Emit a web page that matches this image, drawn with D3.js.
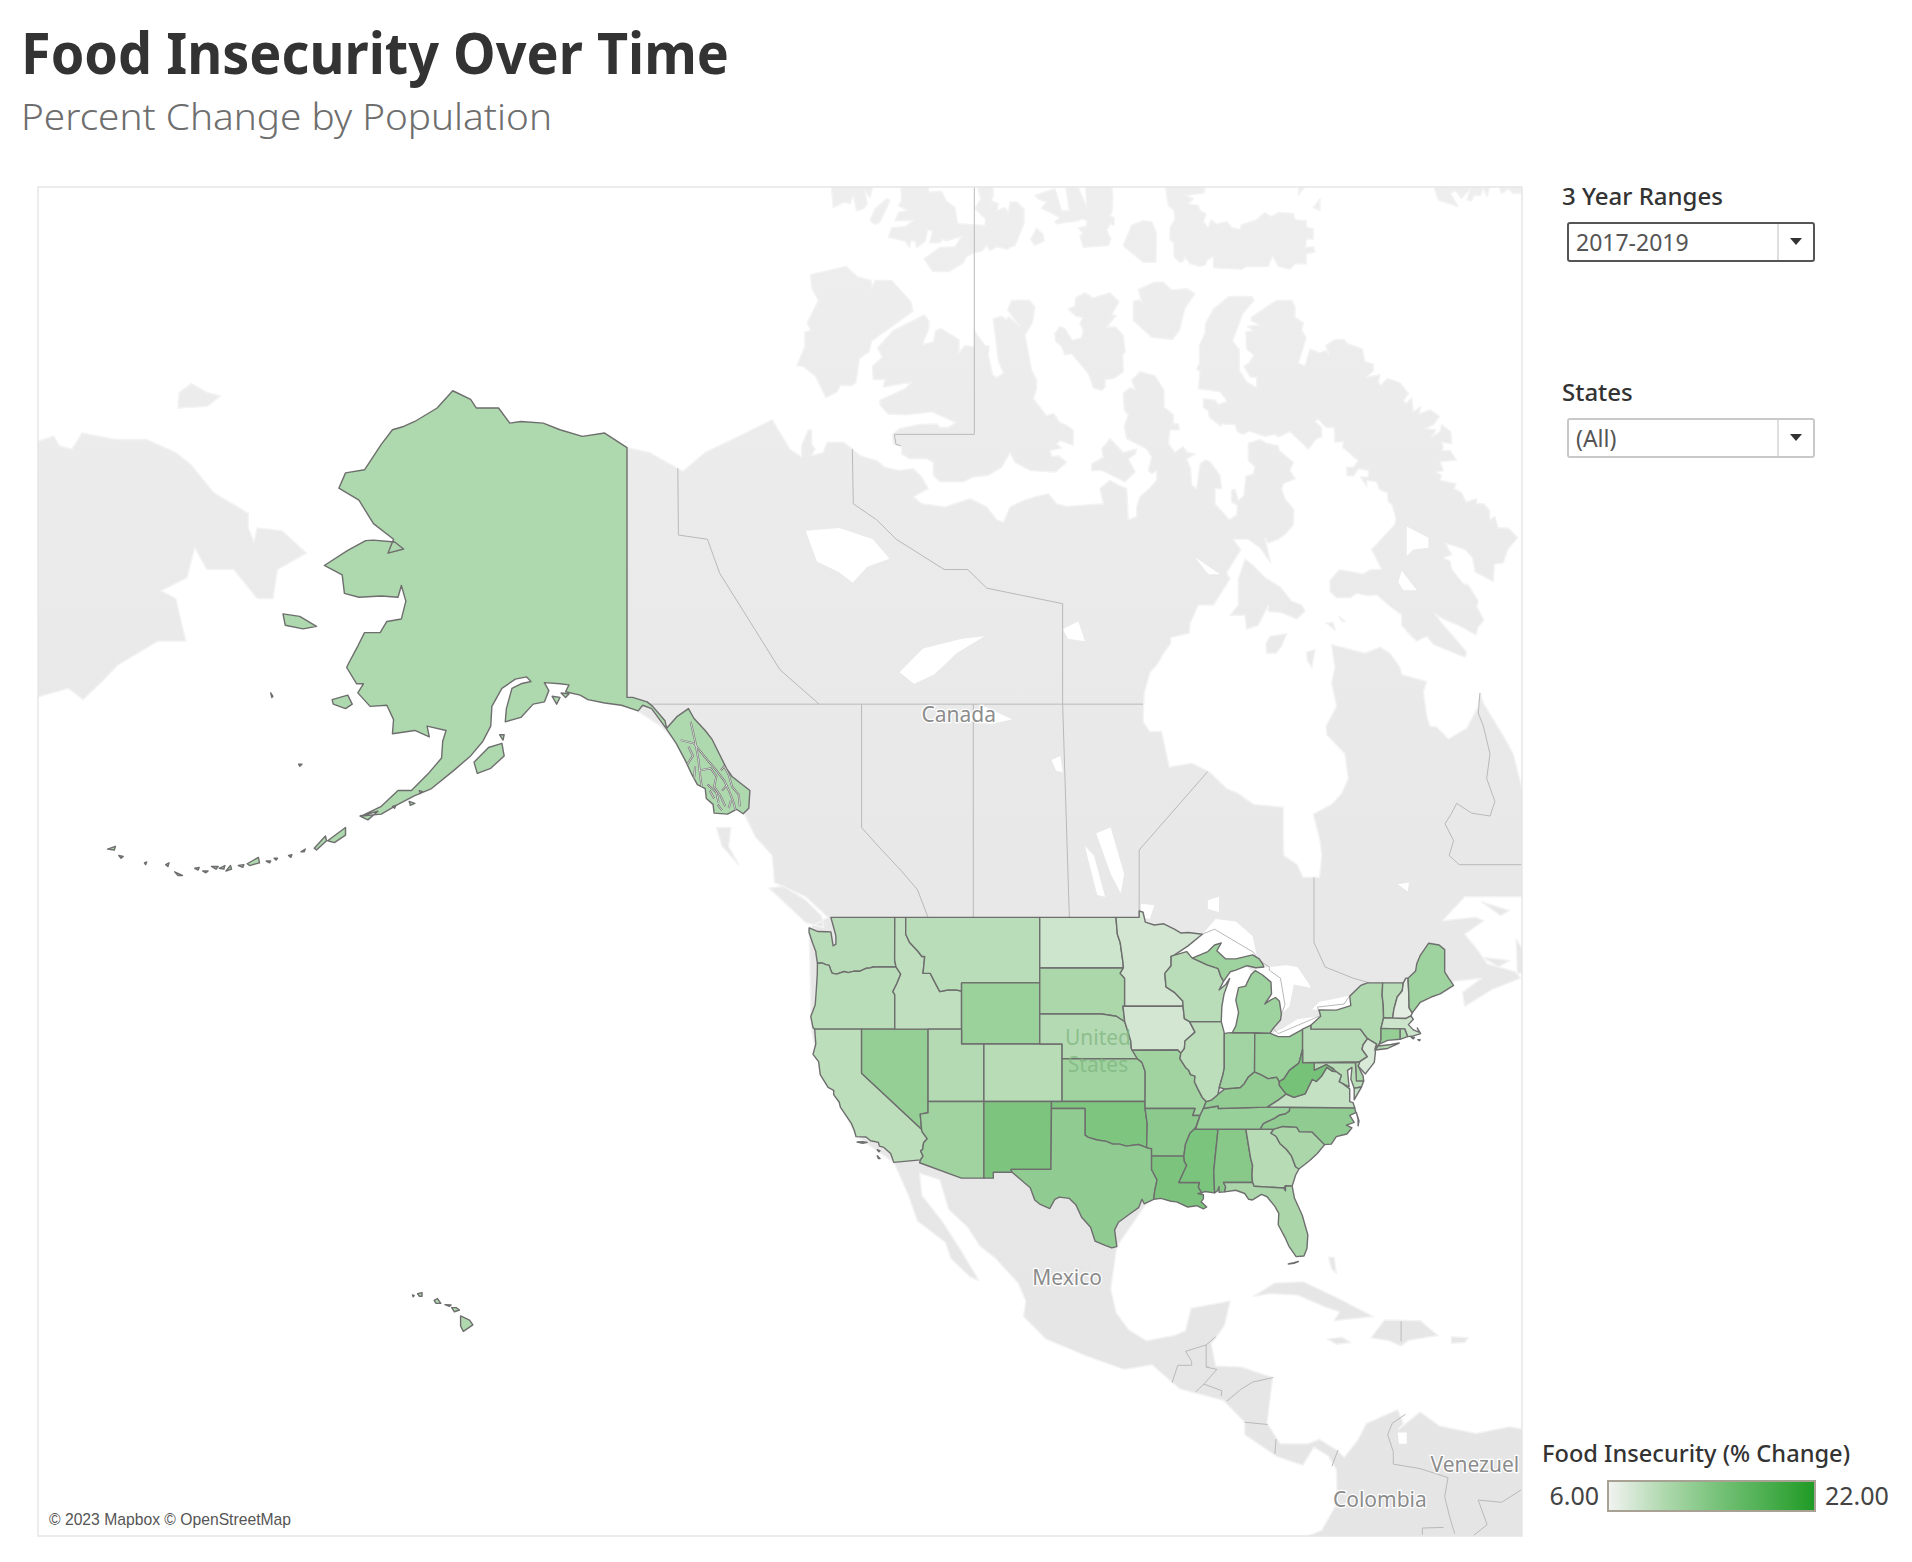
<!DOCTYPE html>
<html>
<head>
<meta charset="utf-8">
<script src="https://cdn.jsdelivr.net/npm/d3@7"></script>
<style>
  body { margin: 0; background: #fff; }
  svg { display: block; }
  text { font-family: "Noto Sans", "Open Sans", sans-serif; }
</style>
</head>
<body>
<div id="chart"></div>
<script>
const titleText = "Food Insecurity Over Time";
const subtitleText = "Percent Change by Population";
const legendTitle = "Food Insecurity (% Change)";
const legendDomain = [6, 22];
const filterLabels = ["3 Year Ranges", "States"];
const filterValues = ["2017-2019", "(All)"];

const stateCodes = ["AK","HI","WA","OR","CA","NV","ID","MT","WY","UT","CO","AZ","NM","ND","SD","NE","KS","OK","TX","MN","IA","MO","AR","LA","MS","AL","GA","FL","SC","NC","TN","KY","IL","IN","OH","MI","WI","PA","NY","VT","NH","ME","MA","RI","CT","NJ","DE","MD","VA","WV"];
const stateValues = [10.4,10.3,9.7,9.6,9.5,12.2,9.3,9.6,11.8,10,9.8,11.4,14,8.3,10.6,10,11.4,13.9,12.6,8.1,8.1,11.4,13,14.1,14.2,13.2,9.9,10.7,10.7,12.6,12,12.4,9.5,11.3,11.8,11.6,9.6,9.7,10.2,9.8,7,11.6,8.5,10.2,12.3,7.6,10.7,9.8,9,14.6];

// outlines are flat lon,lat lists
const stateRings = {
  WA: [[-124.7,48.38,-123.9,48.16,-123.1,48.15,-122.75,48.14,-122.55,47.3,-122.3,47.4,-122.3,47.9,-122.5,48.4,-122.75,49,-117.03,49,-117.04,46.42,-116.92,46,-118.98,46,-119.3,45.93,-119.6,45.92,-120.2,45.73,-120.65,45.74,-121.2,45.65,-121.55,45.72,-122.25,45.55,-122.65,45.62,-122.78,45.85,-122.9,46.1,-123.2,46.15,-123.55,46.25,-123.95,46.23,-124.05,46.65,-124.1,46.95,-124.4,47.5,-124.7,48.1]],
  OR: [[-123.95,46.23,-123.55,46.25,-123.2,46.15,-122.9,46.1,-122.78,45.85,-122.65,45.62,-122.25,45.55,-121.55,45.72,-121.2,45.65,-120.65,45.74,-120.2,45.73,-119.6,45.92,-119.3,45.93,-118.98,46,-116.92,46,-116.5,45.55,-116.85,44.95,-117.2,44.45,-117.03,44.25,-117.03,42,-124.2,42,-124.35,42.1,-124.55,42.84,-124.15,43.6,-124.05,44.6,-123.97,45.5]],
  CA: [[-124.2,42,-120,42,-120,39,-114.63,35,-114.57,34.8,-114.13,34.3,-114.45,34,-114.53,33.5,-114.72,33.4,-114.5,33,-114.72,32.72,-117.12,32.53,-117.25,32.85,-117.4,33.2,-118,33.65,-118.4,33.75,-118.5,34.03,-119.2,34.15,-119.6,34.42,-120.5,34.45,-120.65,34.9,-120.9,35.4,-121.9,36.6,-122,36.95,-122.5,37.5,-122.5,37.8,-123,38,-123.7,38.9,-123.85,39.8,-124.35,40.3,-124.1,41],[-120.4,34.05,-119.9,34.08,-119.5,34.03,-119.9,33.95],[-118.6,33.48,-118.35,33.4,-118.45,33.33],[-118.6,33.03,-118.35,32.82,-118.5,32.82]],
  NV: [[-120,42,-114.04,42,-114.05,36.2,-114.75,36.1,-114.63,35,-120,39]],
  ID: [[-117.03,49,-116.05,49,-116.05,48,-115.7,47.5,-115,47,-114.6,46.65,-114.35,46.65,-114.5,45.6,-113.85,45.6,-113.45,45.05,-113,44.45,-112.3,44.55,-111.5,44.55,-111.05,44.48,-111.05,42,-117.03,42,-117.03,44.25,-117.2,44.45,-116.85,44.95,-116.5,45.55,-116.92,46,-117.04,46.42]],
  MT: [[-116.05,49,-104.05,49,-104.05,45,-111.05,45,-111.05,44.48,-111.5,44.55,-112.3,44.55,-113,44.45,-113.45,45.05,-113.85,45.6,-114.5,45.6,-114.35,46.65,-114.6,46.65,-115,47,-115.7,47.5,-116.05,48]],
  WY: [[-111.05,45,-104.05,45,-104.05,41,-111.05,41]],
  UT: [[-114.05,42,-111.05,42,-111.05,41,-109.05,41,-109.05,37,-114.05,37]],
  CO: [[-109.05,41,-102.05,41,-102.05,37,-109.05,37]],
  AZ: [[-114.05,37,-109.05,37,-109.05,31.33,-111.07,31.33,-114.81,32.5,-114.72,32.72,-114.5,33,-114.72,33.4,-114.53,33.5,-114.45,34,-114.13,34.3,-114.57,34.8,-114.63,35,-114.75,36.1,-114.05,36.2]],
  NM: [[-109.05,37,-103,37,-103.05,32,-106.62,32,-106.53,31.78,-108.21,31.78,-108.21,31.33,-109.05,31.33]],
  ND: [[-104.05,49,-97.23,49,-97.1,48,-96.85,47.5,-96.6,46.3,-96.56,45.94,-104.05,45.94]],
  SD: [[-104.05,45.94,-96.56,45.94,-96.85,45.6,-96.45,45.3,-96.45,43.5,-96.6,43.5,-96.44,42.49,-97.2,42.85,-98.5,43,-104.05,43]],
  NE: [[-104.05,43,-98.5,43,-97.2,42.85,-96.44,42.49,-96.1,41.7,-95.9,41.2,-95.85,40.7,-95.31,40,-102.05,40,-102.05,41,-104.05,41]],
  KS: [[-102.05,40,-95.31,40,-94.9,39.75,-94.61,39.1,-94.61,37,-102.05,37]],
  OK: [[-103,37,-94.62,37,-94.62,36.5,-94.43,35.4,-94.48,33.64,-95.2,33.87,-96.3,33.75,-96.9,33.9,-97.5,33.9,-98.1,34.1,-98.9,34.2,-99.7,34.4,-100,34.56,-100,36.5,-103,36.5]],
  TX: [[-103,36.5,-100,36.5,-100,34.56,-99.7,34.4,-98.9,34.2,-98.1,34.1,-97.5,33.9,-96.9,33.9,-96.3,33.75,-95.2,33.87,-94.48,33.64,-94.04,33.55,-94.04,33.02,-94.04,31.99,-93.55,31.2,-93.75,30.4,-93.85,29.7,-94.7,29.35,-94.9,29.7,-95.2,29.05,-96,28.55,-97,27.9,-97.35,27.3,-97.15,25.96,-97.6,25.85,-98.2,26.05,-99.1,26.4,-99.5,27.5,-100.3,28.3,-100.8,29.25,-101.4,29.77,-102.3,29.87,-102.7,29.7,-103.15,28.98,-104,29.3,-104.5,29.65,-104.9,30.6,-106,31.4,-106.53,31.78,-106.62,32,-103.05,32]],
  MN: [[-97.23,49,-95.15,49,-95.15,49.38,-94.8,49.3,-94.6,48.72,-93.8,48.55,-92.95,48.62,-92,48.3,-91.4,48.07,-90.75,48.1,-89.5,48,-90.8,47.28,-92.05,46.72,-92.29,46.66,-92.29,46.08,-92.85,45.6,-92.75,44.75,-92,44.4,-91.25,43.85,-91.22,43.5,-96.45,43.5,-96.45,45.3,-96.85,45.6,-96.56,45.94,-96.6,46.3,-96.85,47.5,-97.1,48]],
  IA: [[-96.45,43.5,-91.22,43.5,-91.1,42.7,-90.64,42.5,-90.15,41.8,-91.05,41.2,-91.1,40.7,-91.42,40.38,-91.7,40.6,-95.77,40.58,-95.85,40.7,-95.9,41.2,-96.1,41.7,-96.44,42.49,-96.6,43.5]],
  MO: [[-95.77,40.58,-91.7,40.6,-91.42,40.38,-91.5,40,-91,39.4,-90.72,39.2,-90.55,38.9,-90.15,38.8,-90.2,38.4,-89.9,37.9,-89.5,37.3,-89.15,37,-89.4,36.5,-89.7,36,-90.37,36,-90.15,36.5,-94.62,36.5,-94.62,37,-94.61,39.1,-94.9,39.75,-95.31,40]],
  AR: [[-94.62,36.5,-90.15,36.5,-90.37,36,-89.7,36,-90.1,35.1,-90.6,34.7,-91,33.9,-91.15,33,-94.04,33.02,-94.04,33.55,-94.48,33.64,-94.43,35.4]],
  LA: [[-94.04,33.02,-91.15,33,-91.1,32.6,-90.9,32.3,-91.6,31,-89.75,31,-89.85,30.65,-89.55,30.2,-89.9,30.15,-89.4,30.05,-89.4,29.75,-89.6,29.5,-89.1,29.1,-89.4,28.95,-90,29.2,-90.8,29.1,-91.8,29.5,-92.3,29.55,-93.2,29.77,-93.85,29.7,-93.75,30.4,-93.55,31.2,-94.04,31.99]],
  MS: [[-90.1,35,-88.2,35,-88.1,34.9,-88.47,31.9,-88.4,30.2,-89.3,30.3,-89.55,30.2,-89.85,30.65,-89.75,31,-91.6,31,-90.9,32.3,-91.1,32.6,-91.15,33,-91,33.9,-90.6,34.7,-90.1,35.1]],
  AL: [[-88.2,35,-85.6,35,-85.18,32.87,-85,32.3,-85.05,31.55,-85,31,-87.6,31,-87.4,30.65,-87.52,30.28,-88,30.25,-88,30.7,-88.15,30.35,-88.4,30.2,-88.47,31.9,-88.1,34.9]],
  GA: [[-85.6,35,-83.1,35,-83.35,34.7,-82.9,34.48,-82.55,33.95,-81.95,33.5,-81.5,33,-81.15,32.2,-80.85,32.03,-81.15,31.55,-81.45,30.72,-82.05,30.75,-82.2,30.57,-84.86,30.71,-85,31,-85.05,31.55,-85,32.3,-85.18,32.87]],
  FL: [[-87.6,31,-85,31,-84.86,30.71,-82.2,30.57,-82.05,30.36,-82.05,30.75,-81.45,30.72,-81.25,29.8,-80.55,28.45,-80.05,26.9,-80.13,25.8,-80.4,25.2,-81.1,25.15,-81.75,26,-82.1,26.7,-82.7,27.7,-82.65,28.6,-83,29.15,-83.7,29.9,-84.2,30.08,-85,29.65,-85.35,29.7,-85.7,30.15,-86.5,30.4,-87.52,30.28,-87.4,30.65],[-81.8,24.55,-81.3,24.65,-80.9,24.75,-81.3,24.6]],
  SC: [[-83.1,35,-82.3,35.2,-81.05,35.15,-80.8,34.82,-79.67,34.8,-78.55,33.86,-79.2,33.2,-79.9,32.65,-80.85,32.03,-81.15,32.2,-81.5,33,-81.95,33.5,-82.55,33.95,-82.9,34.48,-83.35,34.7]],
  NC: [[-84.32,35,-83.1,35,-82.3,35.2,-81.05,35.15,-80.8,34.82,-79.67,34.8,-78.55,33.86,-77.95,33.9,-77.5,34.45,-76.55,34.65,-76.1,35.1,-76.6,35.3,-75.9,35.5,-76.3,36,-75.75,36.2,-75.85,36.55,-81.68,36.59,-81.7,36.33,-82.05,36.12,-82.6,36.03,-83.1,35.77,-83.65,35.57,-84.05,35.4],[-75.55,35.25,-75.47,35.6,-75.7,36.2,-75.55,35.7]],
  TN: [[-90.1,35,-88.2,35,-85.6,35,-84.32,35,-84.05,35.4,-83.65,35.57,-83.1,35.77,-82.6,36.03,-82.05,36.12,-81.7,36.33,-81.68,36.59,-83.68,36.6,-88.07,36.5,-88.07,36.68,-89.4,36.5,-89.7,36]],
  KY: [[-89.15,37,-88.7,37.1,-88.1,37.5,-87.5,37.9,-86.8,37.95,-86.1,38,-85.75,38.27,-85.4,38.73,-84.82,39.1,-84.25,38.9,-83.6,38.62,-82.85,38.73,-82.6,38.42,-82.6,38.15,-82,37.55,-81.97,37.54,-82.7,37.1,-83.68,36.6,-88.07,36.5,-88.07,36.68,-89.4,36.5]],
  IL: [[-90.64,42.5,-87.8,42.5,-87.55,41.8,-87.53,41.7,-87.53,39.35,-87.65,38.9,-87.98,38,-88.1,37.5,-88.7,37.1,-89.15,37,-89.5,37.3,-89.9,37.9,-90.2,38.4,-90.15,38.8,-90.55,38.9,-90.72,39.2,-91,39.4,-91.5,40,-91.42,40.38,-91.1,40.7,-91.05,41.2,-90.15,41.8]],
  IN: [[-87.53,41.7,-87.2,41.75,-86.82,41.76,-84.8,41.76,-84.82,39.1,-85.4,38.73,-85.75,38.27,-86.1,38,-86.8,37.95,-87.5,37.9,-87.98,38,-87.65,38.9,-87.53,39.35]],
  OH: [[-84.8,41.73,-83.45,41.73,-82.7,41.5,-81.7,41.5,-80.52,41.98,-80.52,40.64,-80.85,39.7,-81.7,39.2,-82.2,38.6,-82.6,38.42,-82.85,38.73,-83.6,38.62,-84.25,38.9,-84.82,39.1]],
  MI: [[-86.82,41.76,-84.8,41.76,-83.45,41.73,-83.15,42.05,-82.5,42.6,-82.42,43,-82.6,43.85,-82.95,44.07,-83.4,43.9,-83.9,43.65,-83.3,44.3,-83.35,45.05,-84.1,45.5,-84.75,45.77,-85.1,45.55,-85.5,45,-85.6,44.8,-86.25,44.7,-86.5,43.9,-86.25,43.1,-86.5,42.2],[-90.4,46.55,-89,46.95,-88.4,47.35,-87.8,47.47,-88.2,47,-87.4,46.5,-86.5,46.5,-85,46.75,-84.4,46.5,-84.1,46.2,-84,46,-84.7,45.95,-85.5,46.08,-86.5,45.8,-87,45.7,-87.6,45.1,-87.85,45.4,-88.1,45.9,-89.1,46.13]],
  WI: [[-92.29,46.66,-92.05,46.72,-90.9,46.95,-90.4,46.55,-89.1,46.13,-88.1,45.9,-87.85,45.4,-87.6,45.1,-88,44.55,-87.4,44.9,-87.05,45.28,-87.55,44.3,-87.75,43.5,-87.8,42.5,-90.64,42.5,-91.1,42.7,-91.22,43.5,-91.25,43.85,-92,44.4,-92.75,44.75,-92.85,45.6,-92.29,46.08]],
  PA: [[-80.52,42,-79.76,42.27,-79.76,42,-75.35,42,-74.7,41.36,-75.1,40.95,-75.2,40.65,-74.72,40.15,-75.4,39.8,-80.52,39.72,-80.52,40.64]],
  NY: [[-79.76,42,-79.76,42.27,-78.9,42.85,-79.05,43.27,-77.5,43.25,-76.2,43.55,-76.3,44.15,-75.3,44.85,-74.7,45,-73.35,45,-73.4,44.2,-73.3,43.6,-73.27,42.75,-73.5,42.05,-73.5,41.3,-73.65,41,-74,40.7,-73.9,41,-74.7,41.36,-75.35,42],[-74,40.6,-73.75,40.87,-72.6,40.97,-71.87,41.07,-72.9,40.7]],
  VT: [[-73.35,45,-71.5,45,-71.6,44.5,-72.05,44.1,-72.35,43.3,-72.45,42.73,-73.27,42.75,-73.3,43.6,-73.4,44.2]],
  NH: [[-71.5,45,-71.28,45.3,-71.08,45.3,-71.03,44.6,-70.98,43.4,-70.7,43.07,-70.82,42.87,-71.3,42.7,-72.45,42.73,-72.35,43.3,-72.05,44.1,-71.6,44.5]],
  ME: [[-71.03,44.6,-71.08,45.3,-70.4,45.75,-70.3,46.2,-70,46.7,-69.23,47.46,-68.3,47.35,-67.8,47.07,-67.8,45.7,-67.45,45.3,-67,44.85,-68.2,44.3,-69,44.1,-70,43.75,-70.7,43.07,-70.98,43.4]],
  MA: [[-73.5,42.05,-73.27,42.75,-72.45,42.73,-71.3,42.7,-70.82,42.87,-70.6,42.65,-71.05,42.3,-70.6,41.95,-70.05,41.78,-70.25,42.07,-69.95,41.7,-70.6,41.55,-71.12,41.5,-71.38,42.02],[-70.8,41.45,-70.5,41.45,-70.6,41.35],[-70.2,41.3,-70,41.3,-70.05,41.22]],
  RI: [[-71.8,42.02,-71.38,42.02,-71.12,41.5,-71.8,41.32]],
  CT: [[-73.5,42.05,-71.8,42.02,-71.8,41.32,-72.9,41.25,-73.65,41,-73.5,41.3]],
  NJ: [[-74.7,41.36,-73.9,41,-74.05,40.65,-74,40.45,-74.1,39.75,-74.9,38.95,-75.55,39.5,-75.4,39.8,-74.72,40.15,-75.2,40.65,-75.1,40.95]],
  DE: [[-75.79,39.72,-75.4,39.8,-75.55,39.5,-75.1,38.8,-75.05,38.45,-75.7,38.46]],
  MD: [[-79.48,39.72,-75.79,39.72,-75.7,38.46,-75.05,38.45,-75.25,38.03,-75.9,37.95,-76.2,38.6,-76.1,39.4,-76.5,39.2,-76.4,38.4,-76.35,38.05,-77,38.3,-77.25,38.4,-77.05,38.85,-77.5,39.1,-77.75,39.3,-78.4,39.6,-79.48,39.2]],
  VA: [[-83.68,36.6,-81.68,36.59,-75.85,36.55,-76,36.92,-76.3,37,-76.3,37.9,-77,38.3,-77.25,38.4,-77.05,38.85,-77.5,39.1,-77.83,39.13,-78.35,39.4,-78.85,38.77,-79.3,38.42,-79.65,38.58,-80.3,37.55,-81.3,37.3,-81.97,37.54,-82.7,37.1],[-75.9,37.95,-75.25,38.03,-75.9,37.12]],
  WV: [[-82.6,38.42,-82.2,38.6,-81.7,39.2,-80.85,39.7,-80.52,40.64,-80.52,39.72,-79.48,39.72,-79.48,39.2,-78.4,39.6,-77.75,39.3,-77.83,39.13,-78.35,39.4,-78.85,38.77,-79.3,38.42,-79.65,38.58,-80.3,37.55,-81.3,37.3,-81.97,37.54,-82,37.55,-82.6,38.15]],
  HI: [[-155.9,20.25,-155.1,19.9,-154.8,19.5,-155.65,18.95,-155.9,19.4],[-156.7,20.95,-156.3,20.95,-156,20.75,-156.45,20.6],[-158.27,21.55,-157.97,21.7,-157.67,21.3,-158.1,21.3],[-159.75,22.1,-159.35,22.2,-159.35,21.9,-159.6,21.9],[-157.3,21.2,-156.75,21.17,-156.9,21.05],[-160.2,22,-160.05,21.95,-160.15,21.85]],
  AK: [[-141,69.65,-143,70.1,-145,70,-147,70.2,-148.5,70.4,-150.5,70.45,-151.5,70.4,-152.5,70.85,-154.5,70.85,-155,71.1,-156.6,71.35,-158,70.85,-160,70.45,-161,70.3,-162,70.2,-163,69.75,-164.5,68.95,-166.2,68.85,-166.8,68.35,-165,67.95,-163.7,67.15,-161.9,66.6,-162.4,66.1,-161,66.25,-161.8,66.5,-163.7,66.57,-164.4,66.55,-166,66.2,-168.1,65.65,-166.5,65.3,-166.3,64.6,-165,64.45,-163,64.5,-161.5,64.45,-161.2,64.9,-160.8,64.3,-161.2,63.6,-162.5,63.5,-163.1,63.05,-164.5,63.05,-165.1,62.5,-165.9,61.8,-166.1,61.6,-165.2,60.9,-164.6,60.9,-165.1,60.5,-164,59.9,-162.5,59.95,-161.9,59.3,-162,58.65,-160,58.8,-158.7,58.5,-158.9,59,-157.2,58.8,-157.5,58.3,-157.6,57.5,-158.7,56.8,-160.3,55.9,-161.5,55.9,-163,55.1,-164.8,54.6,-163,54.7,-161.5,55.2,-160,55.65,-158.5,56,-156.5,56.9,-155,57.6,-153.9,58.3,-153.2,59,-153.1,59.9,-152.2,60.7,-151,61.1,-150,61.2,-149.6,61,-150.5,60.9,-151.3,60.7,-151.8,59.8,-151.9,59.2,-150.5,59.4,-149.4,60,-148.4,60.1,-148,60.6,-148.4,60.95,-147,60.9,-146.2,60.85,-146.5,60.55,-145.2,60.4,-144.5,60.2,-143,60.05,-141.5,59.95,-140,59.7,-139.6,59.95,-138.8,59.8,-137.5,58.9,-136.6,58.2,-135.8,57.4,-135.2,56.7,-134.7,56.2,-134,56,-133.9,55.5,-133.3,55.2,-133.2,54.75,-132,54.7,-131.2,54.95,-130.6,54.72,-130.1,55,-130,55.9,-131.6,56.6,-132.1,57,-133.4,58.4,-134,58.8,-135,59.35,-135.5,59.8,-136.5,59.45,-137.45,58.9,-137.6,59.25,-138.7,59.9,-139.2,60.1,-140.5,60.3,-141,60.3],
    [-154.7,57.3,-153.4,58,-152.2,58.2,-152,57.6,-153.2,57,-154.4,56.75],[-167.4,60.2,-166,60.4,-165.6,60,-166.2,59.8,-167.3,60],[-171.8,63.8,-170.3,63.7,-168.8,63.3,-170,63.2,-171.6,63.35],
    [-164.9,54.6,-163.3,54.85,-164.2,54.4],[-167.8,53.3,-166.2,54,-166.2,53.6,-167.2,53.2],[-169,52.9,-168,53.55,-167.9,53.3,-168.8,52.8],[-170.2,52.7,-169.8,52.85,-169.9,52.7],[-171.3,52.5,-171,52.55,-171.1,52.4],[-172.6,52.35,-172.3,52.35,-172.4,52.25],[-175,52.05,-174,52.4,-173.9,52.1,-174.8,51.95],[-175.8,51.95,-175.3,52,-175.4,51.85],[-176.9,51.65,-176.5,51.95,-176.4,51.75],[-177.5,51.8,-177,51.95,-177.1,51.75],[-178.2,51.9,-177.6,51.9,-177.8,51.75],[-179,51.65,-178.5,51.65,-178.7,51.55],[-179.7,51.8,-179.3,51.85,-179.4,51.7],[-181.5,51.6,-180.8,51.4,-181.2,51.4],[-182.3,52,-182,52.1,-182.1,51.9],[-184.2,52.1,-184,52.15,-184.1,52],[-187.5,52.85,-186.8,53,-186.9,52.8],[-186.5,52.5,-186.1,52.45,-186.3,52.35],[-173.3,52.2,-172.9,52.2,-173,52.1],[-160.5,55.35,-160,55.25,-160.4,55.15],[-159.6,55.9,-159.3,55.85,-159.5,55.75],[-162,55.1,-161.7,55.15,-161.8,55],[-170.4,57.2,-170.1,57.2,-170.3,57.1],[-172.9,60.5,-172.7,60.35,-172.8,60.3],[-147.7,60.35,-147,60.3,-147.3,60],[-146.9,60.5,-146.2,60.45,-146.5,60.3],[-152.4,58.6,-152,58.6,-152.1,58.35]]
};

// inner passages of the Alaska panhandle
const alaskaChannels = [
  [-135.3,59.2,-134.9,58.3,-134.6,57.4,-134.4,56.4,-134.3,56.1],
  [-136.2,58.35,-135,58.2,-134.7,58,-133.8,57.4,-133,56.9,-132.3,56.4,-131.8,55.8,-131.4,55.2,-131.3,54.9],
  [-134.5,56.9,-133.5,57,-133,56.6,-133.2,56.1,-132.6,55.6,-132.2,55.1],
  [-133.8,56.2,-133,55.8,-132.8,55.3],
  [-132.6,56.9,-132.3,57.1,-131.9,56.7,-131.6,56.1,-131,55.7,-130.9,55.1],
  [-135.6,57.2,-135.1,57.6,-135.5,58.05],
  [-134.9,57.1,-135,56.5],
  [-133.6,55.9,-133.2,55.5],[-132.9,55.2,-132.5,54.9],[-131.7,55.4,-131.9,55],[-132,56.2,-132.5,55.9]
];

const landRings = [
  // mainland North and Central America down to the frame
  [-141,69.65,-139,69.5,-136,68.9,-134,69.5,-131,70,-128,70.5,-126.41,69.6,-125.37,69.35,-125.37,69.72,-124.77,70.19,-124.47,70.19,-124.47,69.77,-124.17,69.61,-124.47,69.4,-123.43,69.5,-123.07,69.82,-121.64,69.82,-120.83,69.61,-120.14,69.4,-118.65,69.24,-117.9,69.03,-116.71,68.93,-115.37,68.98,-114.62,68.72,-114.03,68.34,-115.37,68.06,-114.62,67.83,-112.53,67.72,-110.3,68,-109.7,67.89,-108.8,67.72,-107.9,67.28,-107.3,67.2,-106.7,67.72,-105.5,67.94,-104.48,68.06,-103.28,68.17,-102.54,67.83,-101.64,67.74,-98.36,67.83,-98.66,68.34,-97.76,68.61,-97.02,68.45,-96.27,68.34,-96.12,67.28,-95.37,67.39,-95.37,67.72,-95.08,68.06,-94.24,68.34,-93.58,68.61,-93.58,68.93,-94.03,68.82,-94.33,68.93,-94.03,69.35,-94.48,69.61,-95.37,69.77,-96.27,69.93,-96.48,70.3,-96.12,70.65,-96.48,70.79,-96.57,71.28,-95.97,71.44,-95.52,71.38,-95.82,71.65,-95.08,71.89,-94.63,71.85,-93.73,71.77,-92.93,71.37,-92.93,70.88,-92.09,70.65,-92.09,70.38,-91.64,70.38,-91.55,70.2,-92.39,70.19,-92.54,69.77,-91.94,69.5,-91.2,69.68,-90.84,69.5,-90.15,69.45,-90.9,69.3,-90.54,68.98,-90.45,68.45,-90,68.34,-89.7,69.14,-89.26,69.26,-88.81,69.21,-87.91,68.77,-87.77,68.34,-88.36,68.34,-88.36,67.83,-87.08,67.28,-86.42,67.45,-86.36,67.78,-86.87,67.89,-86.87,68.29,-86.57,68.31,-86.27,67.94,-85.77,68.11,-85.59,68.74,-84.93,68.82,-84.78,69.05,-85.38,69.24,-85.38,69.79,-84.33,69.9,-83.74,69.79,-82.7,69.71,-82.6,69.56,-81.35,69.19,-81.65,68.93,-81.2,68.66,-82.24,68.5,-82.4,68.34,-82.1,68,-81.29,67.63,-81.35,67.1,-82.1,66.77,-82.7,66.6,-83.59,66.47,-83.89,66.65,-83.38,65.75,-84.33,66.29,-85.38,66.6,-86.72,66.6,-86.06,66.23,-87.32,65.38,-87.02,65.15,-88.51,64.15,-89.85,64.15,-90.6,63.42,-90.66,63.03,-92.33,62.85,-92.33,62.6,-92.99,62.2,-93.5,61.75,-94.18,61.4,-94.7,60.5,-94.8,59.2,-94.2,58.75,-93.14,58.75,-92.45,57.05,-90.45,57.25,-88.8,56.8,-87.32,56,-86.27,55.75,-84.93,55.2,-82.24,55.05,-82.24,53.3,-82.2,52.5,-81,52,-80.5,51.3,-79,51.3,-78.8,52.5,-78.96,53.3,-79.56,54.7,-77.92,55.2,-77.02,55.75,-76.43,56.5,-76.73,57.7,-78.36,58.6,-78.42,59,-77.47,59.9,-77.92,60.95,-77.62,61.6,-77.92,62.55,-74.93,62.2,-73.59,62.45,-72.7,62.2,-71.8,61.6,-71.65,61.3,-70.6,61.15,-69.41,61,-69.7,60.55,-69.41,59.45,-69.11,59,-68.5,58.95,-67.47,58.4,-65.83,58.9,-64.79,59.9,-64.64,60.5,-64.34,60.05,-62.55,58.55,-61.66,57.7,-60.9,56.05,-60,55.5,-57,54,-55,52,-58,51.5,-60,50.2,-66,50.2,-68,48.8,-65,49,-64.3,48.8,-66,48,-64.8,47,-64,46.2,-61.5,45.7,-61,45.3,-63.5,44.6,-66,43.5,-66.2,44.4,-64.5,45.3,-67,45.1,-71,43.5,-75,41,-80,34,-85,31,-94,30,-97.15,25.96,-97.7,22.5,-97.2,20.5,-96.1,19.1,-94.5,18.15,-92,18.6,-91,19,-90.5,20.9,-87,21.5,-87.5,19.5,-88.2,18.5,-88.7,17.9,-88.3,16,-86,15.9,-83.2,15,-83.7,11,-82.5,9.2,-80,9.2,-79,9.6,-77.4,8.6,-76.8,8,-75.6,9.5,-74.8,11,-72,12.2,-71.5,11,-71.9,10.5,-70,12,-68.3,10.8,-65,10.1,-62,10.7,-58,10,-58,-1,-81,-1,-80,1,-78.8,1.5,-77.4,4,-77.5,6.9,-78.2,8.1,-79.5,8.9,-80.5,7.3,-82.9,8.1,-83.6,8.6,-85.7,10,-85.7,11.1,-87.6,13,-89.5,13.5,-91.5,14,-94,16.1,-96.5,15.7,-100,16.9,-103.5,18.3,-105.5,20.2,-105.3,21.5,-106,23,-108,25,-109.4,26,-110.5,27.5,-112.2,28.9,-113,31.2,-114.8,31.7,-114.6,30,-112.8,28,-111,25.5,-109.5,23.2,-110.3,23.5,-112,25,-112.5,26.3,-115,28,-115.8,30,-117.1,32.5,-120.5,34.5,-124,40,-124.5,42,-124.7,48.4,-123,49,-125,50.2,-127.8,51,-128,52.5,-129.5,53.5,-130.5,54.7,-133,56,-136,58,-138,59,-141,60],
  // Chukotka and Wrangel
  [-196,69.6,-192.3,70,-191.8,69.7,-190.7,69.6,-189.8,70.1,-186.8,69.9,-184,69.9,-181.4,69.5,-180,69.1,-178,68.2,-174.9,67.5,-174.9,67,-174.4,66.5,-174.1,67,-171.9,66.9,-169.7,66.1,-172.3,65.5,-172.7,64.4,-174.1,64.4,-176.2,65.5,-178.6,65.5,-179.7,66.3,-180.4,65.2,-182.7,64.7,-181.4,64.4,-180.5,62.7,-183,62.7,-186.6,61.7,-188,61,-189.7,60.2,-191,60.7,-196,60],
  [-181.2,70.85,-181.1,71.3,-180,71.55,-178.6,71.3,-177.4,71.2,-178.6,70.9],
  // Vancouver Island, Haida Gwaii
  [-123.4,48.4,-125,48.7,-128.3,50.7,-127,50.8,-125,50,-123.6,49.1],
  [-133,54,-131.7,54,-131.9,53,-131,52,-132.5,53],
  // Banks, Victoria
  [-124.56,74.4,-121.4,74.6,-120.35,74.35,-119.16,74.26,-119.1,74.08,-118.8,74.26,-117.3,74.26,-115.6,73.74,-115.4,73.5,-119.1,72.72,-119.34,72.43,-120.2,72.25,-120.5,71.6,-120.8,71.5,-121.9,71.5,-122.2,71.32,-123.2,71.15,-124.1,71.75,-125.2,72.03,-125.8,72.05,-125.07,72.58,-125.07,72.96,-124.56,73,-124.86,73.2,-123.87,73.77,-124.47,74.08],
  [-114.38,73.4,-113.97,73.25,-113.97,73.05,-114.56,72.63,-113.58,72.7,-113.37,73,-112.89,73.05,-111.28,72.76,-111.28,72.41,-110.74,72.6,-109.91,72.56,-109.91,73,-108.95,72.6,-108.57,72.58,-108.66,72.35,-108.27,71.8,-107.91,71.72,-107.31,71.85,-107.76,72.2,-108.21,73.3,-107.46,73.37,-107.01,73.27,-106.86,73.36,-105.82,73.1,-106.92,73.53,-106.57,73.77,-105,73.78,-104.48,73.6,-104.69,73.22,-105.37,72.87,-104.78,71.94,-104.33,71.65,-104.33,71.41,-104.63,71.12,-103.43,70.62,-102.84,70.69,-102.24,70.42,-101.64,70.33,-101.05,70.19,-101.05,69.72,-102.24,69.87,-102.54,69.77,-102.09,69.64,-103.13,69.56,-102.98,69.37,-102.39,69.4,-101.64,69.19,-102.63,68.88,-104.92,68.93,-106.27,69.19,-106.71,69.5,-107.46,69.03,-108.66,68.77,-110,68.72,-110.89,68.56,-112.98,68.56,-113.58,68.77,-113.58,69.19,-114.17,69.3,-115.67,69.3,-116.41,69.45,-116.41,69.66,-117.16,69.77,-117.22,70.06,-116.56,70.24,-114.92,70.35,-113.28,70.38,-112.98,70.27,-112.24,70.27,-111.55,70.42,-113.73,70.74,-115.97,70.65,-117.61,70.67,-118.35,70.93,-118.35,71.08,-116.1,71.41,-115.52,71.6,-118.05,71.46,-117.9,71.67,-118.95,71.67,-119.04,72.03,-118.14,72.29,-118.56,72.54,-117.16,73],
  // Queen Elizabeth islands along the top of the frame
  [-122.83,76.7,-122.53,75.94,-121.5,76.06,-121.04,76.02,-120.74,76.2,-120.44,75.87,-119.85,75.91,-119.5,76.02,-119.7,76.3,-119.25,76.16,-118.65,76.7],
  [-119.25,75.65,-118.8,75.91,-117.76,76.13,-117.46,76.09,-118.35,75.62,-118.8,75.57],
  [-116.56,76.7,-116.41,76.09,-116.7,75.98,-115.9,75.88,-116.7,75.83,-117,75.65,-115.3,75.66,-116.1,75.52,-117.3,75.49,-117.6,75.28,-116.1,75.19,-115.7,75.04,-115.6,75.19,-115.2,75.19,-115.07,75.04,-114.3,75.19,-114.1,75.45,-113.64,75.42,-113.9,75.15,-113,75.15,-112.7,75.24,-112.45,75.19,-111.04,75.3,-111.64,75.06,-113,75.04,-114.4,74.78,-113.64,74.48,-112.15,74.48,-110.9,74.68,-110.6,74.84,-109.9,74.92,-109.25,74.96,-108.8,75.09,-108.5,74.97,-107.9,75.06,-107,75,-106.27,75.09,-105.46,75.58,-105.46,75.91,-106.1,76.06,-106.7,76.06,-106.86,75.83,-107.16,75.94,-107.9,75.87,-107.76,76.02,-108.4,76.09,-108.2,76.2,-108.36,76.7,-110,76.7,-109.34,76.13,-109.85,75.91,-108.9,75.69,-108.95,75.54,-111.4,75.58,-111.64,75.94,-112.45,76.09,-112.83,76.29,-114,76.27,-114.2,76.7],
  [-104.87,75.23,-104.33,75.48,-103.73,75.34,-103.67,75.19,-104.48,75.09],
  [-104.48,76.2,-102.69,76.34,-102.1,75.87,-101.4,75.87,-101.94,76.7,-101.2,76.7,-99.85,75.94,-100,76.7,-97.76,76.7,-97.5,76.16,-97.6,75.83,-97.8,75.76,-97.4,75.71,-97.4,75.55,-97.76,75.58,-98.06,75.43,-97.7,75.24,-97.9,75.09,-100.15,75.05,-100.45,75.3,-100.2,75.37,-100.6,75.49,-99.9,75.52,-99.8,75.65,-100.3,75.69,-100.6,75.65,-102.5,75.58,-102.7,75.62,-102.24,75.72,-103.1,75.83,-103.9,75.92,-103.43,76.06,-104.2,76.13],
  [-96.57,75.1,-95.82,75.55,-94.78,75.65,-94,75.62,-93.6,75.37,-93.65,74.7,-94.78,74.7,-96.4,75.04],
  [-92.99,76.7,-92.54,75.98,-92.03,75.88,-91.94,75.69,-92.39,75.49,-92.39,75.22,-92.03,75.15,-92.03,74.84,-91.55,74.7,-91.2,74.72,-91.05,74.82,-90.6,74.67,-89.7,74.6,-89.2,74.64,-89.1,74.74,-88.5,74.85,-88.5,74.57,-86,74.53,-85.5,74.6,-83.6,74.6,-83.2,74.86,-82.7,74.6,-81.65,74.53,-81.2,74.66,-80.2,74.66,-80.2,74.9,-79.4,74.94,-79.56,75.06,-80.3,75.04,-80.16,75.24,-79.56,75.24,-79.56,75.47,-80.16,75.5,-80.2,75.65,-81.2,75.67,-81.35,75.81,-82.7,75.83,-83.3,75.74,-83.9,75.83,-84.7,75.66,-86,75.56,-86.1,75.45,-86.87,75.5,-87.3,75.63,-88.2,75.57,-88.7,75.67,-88.96,75.49,-89.4,75.62,-89.17,75.8,-89.7,75.87,-89.85,75.98,-90.75,76.02,-90.3,76.13,-91.05,76.2,-89.4,76.25,-89.26,76.32,-89.85,76.7],
  [-80.9,76.2,-80.75,76.7,-79.26,76.7],
  [-79.56,75.94,-78.96,76.13,-78.96,75.87],
  // Greenland corner
  [-69.2,76.7,-68.37,76.1,-66.6,75.96,-67.3,76.25,-66.8,76.3,-66.3,76.13,-65.5,76.36,-65.8,76.1,-65.4,76.08,-65.2,76.2,-64.6,76.2,-64.34,76.36,-64,76.18,-63.45,76.7,-62.7,76.24,-62.1,76.34,-61.65,76.24,-60,76.27,-60,76.7],
  // Somerset, Prince of Wales, King William
  [-95.23,74.04,-93.73,74.22,-92.99,74.22,-92.24,74.03,-90.9,74.06,-90.15,73.94,-91.05,73.58,-91.55,73,-92.18,72.76,-94.03,72.82,-95.67,73.26,-95.67,73.74,-95.23,73.78,-94.93,73.74],
  [-101.5,73.55,-100.9,73.63,-100.84,73.83,-100,73.96,-99.25,73.83,-97.76,73.96,-96.96,73.74,-97.6,73.41,-97.2,73.39,-98.06,73.09,-97.26,73.09,-96.57,72.87,-96.4,72.43,-96.63,72.34,-96.57,71.89,-97.4,71.7,-98.2,71.67,-98.2,71.46,-98.5,71.36,-99.25,71.43,-99.7,71.84,-101.2,72.38,-101.8,72.35,-102.1,72.58,-102.63,72.72,-102.7,72.92,-102.24,73.1,-101.8,73.05,-101.13,72.74,-100.3,72.81,-100.15,73,-100.45,73.18,-100.2,73.34,-100.75,73.36],
  [-99.4,69.14,-98.36,69.35,-98.51,69.61,-97.76,69.93,-96.57,69.5,-95.37,69.61,-95.52,69.45,-96.12,69.3,-95.52,68.88,-96.42,68.56,-98.51,68.93,-99.4,68.93],
  // Baffin
  [-87.11,73.87,-85.08,73.87,-84.87,73.77,-85.88,73.44,-86.78,72.72,-86.18,72.49,-86.18,71.92,-85.53,71.6,-84.63,71.44,-84.63,71.73,-85.17,71.73,-85.77,72.03,-85.32,72.13,-84.87,72.34,-85.53,72.51,-85.59,72.96,-84.93,73,-85.47,73.11,-84.33,73.14,-85.08,73.25,-85.14,73.34,-82.84,73.77,-81.5,73.77,-81.2,73.6,-81.2,73.34,-80.45,73.2,-80.6,73,-80.2,72.81,-80.9,72.12,-80.3,72.05,-79.86,72.51,-78.96,72.4,-78.36,72.47,-78.13,72.34,-78.45,72.6,-77.62,72.76,-76.81,72.76,-76.5,72.65,-75.17,72.51,-74.93,72.16,-74.18,72.1,-74.18,71.92,-74.78,71.73,-73.59,71.8,-73.74,71.6,-73.53,71.5,-72.93,71.7,-71.8,71.58,-71.05,71.27,-71.5,71.06,-71.26,70.98,-70.76,71.15,-70.6,70.74,-69.95,70.88,-70.07,70.67,-69.11,70.8,-68.28,70.6,-68.82,70.35,-69.56,70.24,-68.58,70.19,-68.97,69.98,-68.22,70.14,-68.07,70.35,-67.24,70.14,-67.17,69.77,-68.07,69.82,-67.92,69.66,-68.07,69.56,-67.32,69.56,-66.73,69.26,-68.22,69.21,-67.92,68.93,-68.58,68.88,-68.07,68.77,-68.22,68.61,-66.79,68.5,-66.97,68.34,-66.28,68.2,-65.89,67.89,-64.94,68,-64.94,67.83,-64.34,67.83,-63.8,67.63,-63.74,67.28,-63.3,67.39,-63,67,-62.1,67,-61.27,66.65,-62.16,66.23,-62.55,65.75,-63.35,65.7,-63.44,65.05,-65.08,65.41,-65.3,65.93,-65.98,66.23,-67.77,66.47,-67.17,66.05,-67.92,65.93,-67.32,65.81,-67.17,65.51,-66.13,64.97,-65.68,64.91,-64.79,64.3,-64.94,64.1,-64.28,63.55,-64.79,63.29,-65,62.96,-66.58,63.35,-67.92,63.6,-68.67,63.8,-67.92,63.35,-67.03,62.9,-65.83,62.24,-65.98,62.03,-68.82,62.57,-69.41,62.9,-70.31,62.7,-71.05,63.03,-71.65,63.35,-71.65,63.76,-72.84,64.15,-73.89,64.55,-74.63,64.51,-75.68,64.6,-76.28,64.43,-77.47,64.43,-78.07,64.67,-78.07,65.09,-77.23,65.49,-75.08,65.33,-74.48,65.49,-73.44,65.51,-74.34,66.23,-72.25,67.12,-72.16,67.34,-72.55,67.83,-72.85,67.89,-72.93,68.2,-73.65,68.31,-73.89,68.56,-74.78,68.61,-74.78,68.4,-75.32,68.72,-74.63,68.72,-74.63,68.93,-75.53,68.98,-75.98,68.74,-76.57,68.77,-76.57,69.03,-75.98,69.03,-75.53,69.24,-76.93,69.66,-76.87,69.85,-77.62,69.82,-77.68,70.27,-78.42,70.27,-79.11,70.52,-79.41,70.45,-78.81,70.27,-78.81,69.98,-79.26,69.93,-80,69.61,-81.65,70.14,-82.7,69.98,-83,70.06,-83.89,70,-85.29,70.16,-85.83,70.06,-86.36,70.14,-86.57,70.35,-87.77,70.38,-87.85,70.31,-88.87,70.58,-88.96,70.77,-89.4,70.87,-89.4,71.12,-88.36,71.08,-88.06,70.96,-87.32,71.03,-87.47,71.15,-87.91,71.32,-89.85,71.41,-89.7,71.89,-90,71.96,-89.76,72.12,-89.76,72.6,-89.26,72.92,-89.2,73.18,-88.51,73.55],
  // Hudson Bay islands
  [-87.02,63.75,-86.27,64.15,-86.27,65.15,-85.68,65.87,-85.08,65.7,-83.89,65.2,-82.54,64.85,-81.5,64.3,-80.6,64.15,-80.3,63.9,-81.05,63.6,-82.4,63.85,-83.59,63.9,-83.59,64.15,-84.48,63.35,-85.53,63.2,-85.68,63.75],
  [-83.8,62.6,-83.44,62.9,-81.95,63,-82.4,62.5,-82.9,62.2,-83.74,62.2],
  [-80.16,62.25,-79.4,62.35,-79.7,61.6,-80.1,61.9],
  [-78.42,63.45,-77.77,63.45,-77.62,63.15],
  [-77.23,63.7,-76.72,63.5,-77,63.5],
  // St Lawrence and Caribbean
  [-64.5,49.9,-62,49.4,-62.8,49.1],
  [-64.4,46.6,-62,46.4,-63,46],
  [-61.4,47.7,-60,46.2,-60,45.7,-61.3,45.6],
  [-84.9,21.9,-83,23,-80.5,23.1,-77.5,21.8,-74.2,20.2,-77.7,19.85,-77.2,20.6,-78.5,21,-81,22,-83.5,22.1],
  [-74.4,18.4,-73.2,19.9,-70,19.85,-68.4,18.6,-71,18.2,-71.7,17.7,-72.8,18.15],
  [-78.3,18.3,-77,18.45,-76.2,18,-77.5,17.85],
  [-67.2,18.5,-65.7,18.4,-66,18,-67.2,17.95],
  [-78.2,25.1,-77.7,25.1,-77.5,23.8,-77.9,24.1]
];

const lakeRings = [
  [-92.1,46.7,-89.5,48,-88.3,48.9,-86.5,48.75,-85,47.9,-84.6,46.6,-85,46.75,-86.5,46.5,-87.4,46.5,-88.2,47,-87.8,47.47,-88.4,47.35,-89,46.95,-90.4,46.55,-90.9,46.95],
  [-87.8,41.6,-87,41.6,-86.3,42.5,-86.2,43.5,-86.4,44.5,-85.5,45,-85,45.7,-85.5,46,-86.8,45.8,-87.5,45.2,-88,44.5,-87.5,44.3,-87.8,43],
  [-84.7,45.9,-83.5,46,-82,46.1,-81,46,-80,45,-79.8,44.7,-81.3,44.9,-81.7,43.5,-82.4,43,-82.6,43.85,-83.9,43.7,-83.3,44.3,-83.4,45.1,-84.7,45.8],
  [-83.4,41.7,-82.4,42,-81,42.65,-79,42.85,-78.9,42.9,-79.8,42.25,-81.7,41.5,-82.7,41.45],
  [-79.7,43.3,-79,43.8,-77.5,44,-76.3,44.2,-76.2,43.55,-77.5,43.25,-79,43.27],
  [-125,66.9,-122,67,-119,66.6,-117.5,65.9,-119.5,65.6,-120.8,65,-122,65.4,-124,65.8],
  [-116.6,61.4,-114.5,62.4,-111,62.8,-109,62.9,-111.5,62.2,-113.5,61.3,-115.3,60.9],
  [-111,59.3,-109,59.9,-106.5,59.3,-108.5,59.1],
  [-103,57.4,-102.2,57.6,-102,56.8,-102.6,56.9],
  [-99,53.7,-97.7,54,-96.5,51.5,-96.8,50.4,-97.7,51.5],
  [-100,53,-99.2,52.5,-98.2,50.2,-98.9,50.3,-99.6,52],
  [-95,49.8,-93.8,49.7,-94.2,48.9,-95,49],
  [-89,50,-88,50.2,-88,49.3,-89,49.5],
  [-102,63.2,-100.6,63.5,-100,62.7,-101.5,62.8],
  [-72,50.9,-71,51,-71.1,50.5],
  [-72,10.2,-71.2,10.2,-71.2,9.2,-71.9,9.2],
  [-90.4,30.3,-89.9,30.4,-89.9,30.1,-90.4,30.05],
  [-71.2,67.05,-69.26,66.65,-69.26,66.3,-70.6,66.23,-71.2,66],
  [-71.65,65.45,-70.3,64.72,-71.5,64.72,-71.95,65.03],
  [-90.15,65.95,-87.91,65.32,-88.96,65.32]
];

const borderLines = [
  [-136.45,69,-136.4,66.75,-133.8,66.6,-132.7,65.36,-130,63.5,-127.3,61.5,-123.8,60],
  [-139,60,-94.8,60],
  [-120,60,-120,54,-118.5,53,-116.5,51.7,-115,50.6,-114.05,49],
  [-110,60,-110,49],
  [-102,60,-101.4,49],
  [-95.15,49,-95.15,52.8,-89,56.85],
  [-79.5,51.3,-79.5,47.5,-78.5,46,-76,45.3,-74.5,45],
  [-120.83,69.61,-120.74,67.83,-118.65,67.28,-116.9,66.6,-112.6,65.5,-110.5,65.5,-108.8,64.8,-102,64.2,-102,60],
  [-109.91,77,-109.91,70.06,-117.07,70.06,-116.92,69.75,-116.5,69.72],
  [-64.64,60.5,-64.79,59.6,-64.34,59,-63.74,57.7,-64.04,56.5,-63.3,55.35,-63.74,54.6,-65.38,54.75,-66.73,55.25,-67.17,54.75,-67.77,54.2,-67,53.3,-67.4,52.5,-66.5,52,-64,52,-60,52],
  [-89.5,48,-88.4,48.3,-84.9,46.9,-84.5,46.45,-83.5,46,-83.5,45.8,-82.5,45.3,-82.1,43.6,-82.4,43,-83.1,42.2,-83.1,42,-82.7,41.7,-78.9,42.9,-79.2,43.45,-76.8,43.65,-76.3,44.2,-75,45],
  [-92.2,14.55,-91.7,16.05,-90.45,16.05,-90.45,16.4,-91,17.25,-89.15,17.8,-88.3,18.5],
  [-89.15,17.8,-89.15,15.9,-88.9,15.9],
  [-89.15,15.9,-88.2,15.7,-89.35,14.43,-90.1,13.75],
  [-89.35,14.43,-87.75,13.85,-87.8,13.4],
  [-87.3,12.95,-86,14,-85,14.6,-83.15,15],
  [-85.7,11.1,-83.65,10.9],
  [-83,8.3,-82.9,9.6],
  [-77.9,7.2,-77.35,8.65],
  [-71.3,11.8,-72.5,11,-72.9,10,-72.4,8.5,-72.4,7.4,-70,7,-67.5,6.2,-67.8,4.5,-67.3,2.5,-66.9,1.2],
  [-69.8,1.1,-69.8,1.7,-67.9,1.75],
  [-60.8,5.2,-62.7,4,-64.8,4.2,-64,2,-65.5,0.8],
  [-71.7,19.8,-71.7,18.1]
];

const placeNames = ["Canada", "Mexico", "Colombia", "Venezuel"];
const placeCoords = [[-111.3, 59.2], [-101.6, 22.8], [-73.6, 3.6], [-65.1, 6.7]];

const width = 1912, height = 1562;
const frame = { x: 38, y: 187, w: 1484, h: 1349 };

const projection = d3.geoMercator().rotate([127, 0]).scale(640).translate([783.4, 1547]);
const line = d3.line();

function ringPoints(ring) {
    return d3.range(0, ring.length, 2).map(i => projection([ring[i], ring[i + 1]]));
}
function ringsPath(rings) {
    return rings.map(r => line(ringPoints(r)) + "Z").join("");
}
function linePath(ring) {
    return line(ringPoints(ring));
}

const color = d3.scaleLinear()
    .domain([6, 10.4, 14, 22])
    .range(["#f2f3f1", "#aed8ad", "#7dc57f", "#1f9a24"]);

const svg = d3.select("#chart").append("svg").attr("width", width).attr("height", height);
const defs = svg.append("defs");

svg.append("text").attr("x", 21).attr("y", 74)
    .attr("font-size", 57).attr("font-weight", 700).attr("fill", "#333")
    .attr("textLength", 708).attr("lengthAdjust", "spacingAndGlyphs")
    .text(titleText);
svg.append("text").attr("x", 21).attr("y", 130)
    .attr("font-size", 37).attr("font-weight", 300).attr("fill", "#6e6e6e")
    .attr("textLength", 531).attr("lengthAdjust", "spacingAndGlyphs")
    .text(subtitleText);

defs.append("clipPath").attr("id", "map-clip").append("rect")
    .attr("x", frame.x).attr("y", frame.y).attr("width", frame.w).attr("height", frame.h);

// the basemap gets lighter towards the Arctic
const landGradient = defs.append("linearGradient").attr("id", "land")
    .attr("gradientUnits", "userSpaceOnUse")
    .attr("x1", 0).attr("x2", 0).attr("y1", frame.y).attr("y2", frame.y + frame.h);
landGradient.append("stop").attr("offset", 0).attr("stop-color", "#eeeeee");
landGradient.append("stop").attr("offset", 0.4).attr("stop-color", "#e9e9e9");
landGradient.append("stop").attr("offset", 1).attr("stop-color", "#e5e5e5");

const map = svg.append("g").attr("clip-path", "url(#map-clip)");

map.append("path").attr("d", ringsPath(landRings))
    .attr("fill", "url(#land)").attr("stroke", "#f3f3f3").attr("stroke-width", 1.5).attr("stroke-linejoin", "round");
map.append("path").attr("d", ringsPath(lakeRings)).attr("fill", "#fff");

map.selectAll("path.border").data(borderLines).enter().append("path")
    .attr("class", "border")
    .attr("d", linePath)
    .attr("fill", "none").attr("stroke", "#b9b9b9").attr("stroke-width", 1);

map.selectAll("path.state").data(stateCodes).enter().append("path")
    .attr("class", "state")
    .attr("d", code => ringsPath(stateRings[code]))
    .attr("fill", (code, i) => color(stateValues[i]))
    .attr("stroke", "#6e6e6e").attr("stroke-width", 1.4).attr("stroke-linejoin", "round");

// channels drawn twice: grey shoreline, white water on top
map.selectAll("path.channel-edge").data(alaskaChannels).enter().append("path")
    .attr("d", linePath).attr("fill", "none").attr("stroke", "#6e6e6e").attr("stroke-width", 2);
map.selectAll("path.channel").data(alaskaChannels).enter().append("path")
    .attr("d", linePath).attr("fill", "none").attr("stroke", "#fff").attr("stroke-width", 0.7);

map.selectAll("text.place").data(placeNames).enter().append("text")
    .attr("class", "place")
    .attr("transform", (d, i) => `translate(${projection(placeCoords[i])})`)
    .attr("text-anchor", "middle")
    .attr("font-size", 21).attr("fill", "#8c8c8c")
    .attr("stroke", "#fff").attr("stroke-width", 2.5).attr("paint-order", "stroke")
    .text(d => d);

map.selectAll("text.us").data(["United", "States"]).enter().append("text")
    .attr("class", "us")
    .attr("x", 1098).attr("y", (d, i) => 1045 + i * 27)
    .attr("text-anchor", "middle").attr("font-size", 21).attr("fill", "#7fb580").attr("fill-opacity", 0.75)
    .text(d => d);

svg.append("rect").attr("x", 46).attr("y", 1510).attr("width", 254).attr("height", 21).attr("fill", "#fff").attr("fill-opacity", 0.5);
svg.append("text").attr("x", 49).attr("y", 1525)
    .attr("font-size", 15.7).attr("fill", "#555")
    .style("font-family", "'Liberation Sans', sans-serif")
    .text("© 2023 Mapbox © OpenStreetMap");

svg.append("rect")
    .attr("x", frame.x).attr("y", frame.y).attr("width", frame.w).attr("height", frame.h)
    .attr("fill", "none").attr("stroke", "#e6e6e6").attr("stroke-width", 1.5);

// filter controls
const filterBoxY = [223, 419];
const filterBoxStroke = ["#555", "#c9c9c9"];
filterLabels.forEach((label, i) => {
    const y = filterBoxY[i];
    svg.append("text").attr("x", 1562).attr("y", y - 18)
        .attr("font-size", 24).attr("font-weight", 500).attr("fill", "#333").text(label);
    svg.append("rect").attr("x", 1568).attr("y", y).attr("width", 246).attr("height", 38).attr("rx", 2)
        .attr("fill", "#fff").attr("stroke", filterBoxStroke[i]).attr("stroke-width", 2);
    svg.append("line").attr("x1", 1778).attr("x2", 1778).attr("y1", y + 1).attr("y2", y + 37)
        .attr("stroke", "#d4d4d4").attr("stroke-width", 1.5);
    svg.append("text").attr("x", 1576).attr("y", y + 28)
        .attr("font-size", 23).attr("fill", "#555").text(filterValues[i]);
    svg.append("path").attr("d", `M1790,${y + 15}L1802,${y + 15}L1796,${y + 22}Z`).attr("fill", "#333");
});

// legend
const legendX = d3.scaleLinear().domain(legendDomain).range([1608, 1815]);
const gradient = defs.append("linearGradient").attr("id", "legend-ramp");
color.domain().forEach(v => {
    gradient.append("stop")
        .attr("offset", (v - legendDomain[0]) / (legendDomain[1] - legendDomain[0]))
        .attr("stop-color", color(v));
});
svg.append("text").attr("x", 1542).attr("y", 1462)
    .attr("font-size", 23).attr("font-weight", 500).attr("fill", "#333")
    .attr("textLength", 308).attr("lengthAdjust", "spacingAndGlyphs").text(legendTitle);
svg.append("rect")
    .attr("x", legendX(6)).attr("y", 1481).attr("width", legendX(22) - legendX(6)).attr("height", 30)
    .attr("fill", "url(#legend-ramp)").attr("stroke", "#a8a294").attr("stroke-width", 2);
svg.append("text").attr("x", 1599).attr("y", 1505).attr("text-anchor", "end")
    .attr("font-size", 25).attr("fill", "#444").text(d3.format(".2f")(legendDomain[0]));
svg.append("text").attr("x", 1825).attr("y", 1505)
    .attr("font-size", 25).attr("fill", "#444").text(d3.format(".2f")(legendDomain[1]));
</script>
</body>
</html>
